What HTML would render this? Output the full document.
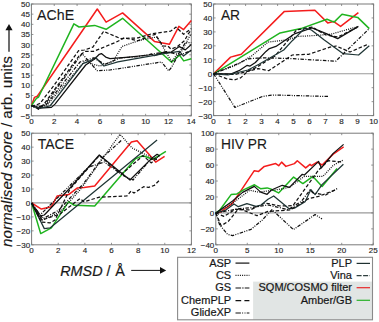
<!DOCTYPE html>
<html><head><meta charset="utf-8"><style>
html,body{margin:0;padding:0;background:#fff;}
svg{display:block;}
text{font-family:"Liberation Sans",sans-serif;fill:#1a1a1a;}
.tl{font-size:8px;stroke:#333;stroke-width:0.15px;}
.ti{font-size:15px;stroke:#111;stroke-width:0.1px;}
.lg{font-size:11px;stroke:#111;stroke-width:0.2px;}
.al{font-size:14.4px;stroke:#111;stroke-width:0.2px;}
.yl{font-size:15.2px;stroke:#111;stroke-width:0.15px;}
</style></head><body>
<svg width="379" height="322" viewBox="0 0 379 322">
<line x1="31.4" y1="105.64" x2="191.3" y2="105.64" stroke="#9a9a9a" stroke-width="1.2"/>
<rect x="31.4" y="4.0" width="159.90" height="111.80" fill="none" stroke="#7a7a7a" stroke-width="1"/>
<line x1="31.40" y1="115.8" x2="31.40" y2="113.8" stroke="#7a7a7a" stroke-width="0.8"/>
<line x1="31.40" y1="4.0" x2="31.40" y2="6.0" stroke="#7a7a7a" stroke-width="0.8"/>
<text x="31.40" y="123.80" class="tl" text-anchor="middle">0</text>
<line x1="54.24" y1="115.8" x2="54.24" y2="113.8" stroke="#7a7a7a" stroke-width="0.8"/>
<line x1="54.24" y1="4.0" x2="54.24" y2="6.0" stroke="#7a7a7a" stroke-width="0.8"/>
<text x="54.24" y="123.80" class="tl" text-anchor="middle">2</text>
<line x1="77.09" y1="115.8" x2="77.09" y2="113.8" stroke="#7a7a7a" stroke-width="0.8"/>
<line x1="77.09" y1="4.0" x2="77.09" y2="6.0" stroke="#7a7a7a" stroke-width="0.8"/>
<text x="77.09" y="123.80" class="tl" text-anchor="middle">4</text>
<line x1="99.93" y1="115.8" x2="99.93" y2="113.8" stroke="#7a7a7a" stroke-width="0.8"/>
<line x1="99.93" y1="4.0" x2="99.93" y2="6.0" stroke="#7a7a7a" stroke-width="0.8"/>
<text x="99.93" y="123.80" class="tl" text-anchor="middle">6</text>
<line x1="122.77" y1="115.8" x2="122.77" y2="113.8" stroke="#7a7a7a" stroke-width="0.8"/>
<line x1="122.77" y1="4.0" x2="122.77" y2="6.0" stroke="#7a7a7a" stroke-width="0.8"/>
<text x="122.77" y="123.80" class="tl" text-anchor="middle">8</text>
<line x1="145.61" y1="115.8" x2="145.61" y2="113.8" stroke="#7a7a7a" stroke-width="0.8"/>
<line x1="145.61" y1="4.0" x2="145.61" y2="6.0" stroke="#7a7a7a" stroke-width="0.8"/>
<text x="145.61" y="123.80" class="tl" text-anchor="middle">10</text>
<line x1="168.46" y1="115.8" x2="168.46" y2="113.8" stroke="#7a7a7a" stroke-width="0.8"/>
<line x1="168.46" y1="4.0" x2="168.46" y2="6.0" stroke="#7a7a7a" stroke-width="0.8"/>
<text x="168.46" y="123.80" class="tl" text-anchor="middle">12</text>
<line x1="191.30" y1="115.8" x2="191.30" y2="113.8" stroke="#7a7a7a" stroke-width="0.8"/>
<line x1="191.30" y1="4.0" x2="191.30" y2="6.0" stroke="#7a7a7a" stroke-width="0.8"/>
<text x="191.30" y="123.80" class="tl" text-anchor="middle">14</text>
<line x1="31.4" y1="115.80" x2="33.4" y2="115.80" stroke="#7a7a7a" stroke-width="0.8"/>
<line x1="191.3" y1="115.80" x2="189.3" y2="115.80" stroke="#7a7a7a" stroke-width="0.8"/>
<text x="29.90" y="118.70" class="tl" text-anchor="end">−5</text>
<line x1="31.4" y1="105.64" x2="33.4" y2="105.64" stroke="#7a7a7a" stroke-width="0.8"/>
<line x1="191.3" y1="105.64" x2="189.3" y2="105.64" stroke="#7a7a7a" stroke-width="0.8"/>
<text x="29.90" y="108.54" class="tl" text-anchor="end">0</text>
<line x1="31.4" y1="95.47" x2="33.4" y2="95.47" stroke="#7a7a7a" stroke-width="0.8"/>
<line x1="191.3" y1="95.47" x2="189.3" y2="95.47" stroke="#7a7a7a" stroke-width="0.8"/>
<text x="29.90" y="98.37" class="tl" text-anchor="end">5</text>
<line x1="31.4" y1="85.31" x2="33.4" y2="85.31" stroke="#7a7a7a" stroke-width="0.8"/>
<line x1="191.3" y1="85.31" x2="189.3" y2="85.31" stroke="#7a7a7a" stroke-width="0.8"/>
<text x="29.90" y="88.21" class="tl" text-anchor="end">10</text>
<line x1="31.4" y1="75.15" x2="33.4" y2="75.15" stroke="#7a7a7a" stroke-width="0.8"/>
<line x1="191.3" y1="75.15" x2="189.3" y2="75.15" stroke="#7a7a7a" stroke-width="0.8"/>
<text x="29.90" y="78.05" class="tl" text-anchor="end">15</text>
<line x1="31.4" y1="64.98" x2="33.4" y2="64.98" stroke="#7a7a7a" stroke-width="0.8"/>
<line x1="191.3" y1="64.98" x2="189.3" y2="64.98" stroke="#7a7a7a" stroke-width="0.8"/>
<text x="29.90" y="67.88" class="tl" text-anchor="end">20</text>
<line x1="31.4" y1="54.82" x2="33.4" y2="54.82" stroke="#7a7a7a" stroke-width="0.8"/>
<line x1="191.3" y1="54.82" x2="189.3" y2="54.82" stroke="#7a7a7a" stroke-width="0.8"/>
<text x="29.90" y="57.72" class="tl" text-anchor="end">25</text>
<line x1="31.4" y1="44.65" x2="33.4" y2="44.65" stroke="#7a7a7a" stroke-width="0.8"/>
<line x1="191.3" y1="44.65" x2="189.3" y2="44.65" stroke="#7a7a7a" stroke-width="0.8"/>
<text x="29.90" y="47.55" class="tl" text-anchor="end">30</text>
<line x1="31.4" y1="34.49" x2="33.4" y2="34.49" stroke="#7a7a7a" stroke-width="0.8"/>
<line x1="191.3" y1="34.49" x2="189.3" y2="34.49" stroke="#7a7a7a" stroke-width="0.8"/>
<text x="29.90" y="37.39" class="tl" text-anchor="end">35</text>
<line x1="31.4" y1="24.33" x2="33.4" y2="24.33" stroke="#7a7a7a" stroke-width="0.8"/>
<line x1="191.3" y1="24.33" x2="189.3" y2="24.33" stroke="#7a7a7a" stroke-width="0.8"/>
<text x="29.90" y="27.23" class="tl" text-anchor="end">40</text>
<line x1="31.4" y1="14.16" x2="33.4" y2="14.16" stroke="#7a7a7a" stroke-width="0.8"/>
<line x1="191.3" y1="14.16" x2="189.3" y2="14.16" stroke="#7a7a7a" stroke-width="0.8"/>
<text x="29.90" y="17.06" class="tl" text-anchor="end">45</text>
<line x1="31.4" y1="4.00" x2="33.4" y2="4.00" stroke="#7a7a7a" stroke-width="0.8"/>
<line x1="191.3" y1="4.00" x2="189.3" y2="4.00" stroke="#7a7a7a" stroke-width="0.8"/>
<text x="29.90" y="6.90" class="tl" text-anchor="end">50</text>
<text x="37.0" y="20.20" class="ti" textLength="37.1" lengthAdjust="spacingAndGlyphs">AChE</text>
<line x1="213.6" y1="73.75" x2="373.6" y2="73.75" stroke="#9a9a9a" stroke-width="1.2"/>
<rect x="213.6" y="4.0" width="160.00" height="111.60" fill="none" stroke="#7a7a7a" stroke-width="1"/>
<line x1="213.60" y1="115.6" x2="213.60" y2="113.6" stroke="#7a7a7a" stroke-width="0.8"/>
<line x1="213.60" y1="4.0" x2="213.60" y2="6.0" stroke="#7a7a7a" stroke-width="0.8"/>
<text x="213.60" y="123.60" class="tl" text-anchor="middle">0</text>
<line x1="229.60" y1="115.6" x2="229.60" y2="113.6" stroke="#7a7a7a" stroke-width="0.8"/>
<line x1="229.60" y1="4.0" x2="229.60" y2="6.0" stroke="#7a7a7a" stroke-width="0.8"/>
<text x="229.60" y="123.60" class="tl" text-anchor="middle">1</text>
<line x1="245.60" y1="115.6" x2="245.60" y2="113.6" stroke="#7a7a7a" stroke-width="0.8"/>
<line x1="245.60" y1="4.0" x2="245.60" y2="6.0" stroke="#7a7a7a" stroke-width="0.8"/>
<text x="245.60" y="123.60" class="tl" text-anchor="middle">2</text>
<line x1="261.60" y1="115.6" x2="261.60" y2="113.6" stroke="#7a7a7a" stroke-width="0.8"/>
<line x1="261.60" y1="4.0" x2="261.60" y2="6.0" stroke="#7a7a7a" stroke-width="0.8"/>
<text x="261.60" y="123.60" class="tl" text-anchor="middle">3</text>
<line x1="277.60" y1="115.6" x2="277.60" y2="113.6" stroke="#7a7a7a" stroke-width="0.8"/>
<line x1="277.60" y1="4.0" x2="277.60" y2="6.0" stroke="#7a7a7a" stroke-width="0.8"/>
<text x="277.60" y="123.60" class="tl" text-anchor="middle">4</text>
<line x1="293.60" y1="115.6" x2="293.60" y2="113.6" stroke="#7a7a7a" stroke-width="0.8"/>
<line x1="293.60" y1="4.0" x2="293.60" y2="6.0" stroke="#7a7a7a" stroke-width="0.8"/>
<text x="293.60" y="123.60" class="tl" text-anchor="middle">5</text>
<line x1="309.60" y1="115.6" x2="309.60" y2="113.6" stroke="#7a7a7a" stroke-width="0.8"/>
<line x1="309.60" y1="4.0" x2="309.60" y2="6.0" stroke="#7a7a7a" stroke-width="0.8"/>
<text x="309.60" y="123.60" class="tl" text-anchor="middle">6</text>
<line x1="325.60" y1="115.6" x2="325.60" y2="113.6" stroke="#7a7a7a" stroke-width="0.8"/>
<line x1="325.60" y1="4.0" x2="325.60" y2="6.0" stroke="#7a7a7a" stroke-width="0.8"/>
<text x="325.60" y="123.60" class="tl" text-anchor="middle">7</text>
<line x1="341.60" y1="115.6" x2="341.60" y2="113.6" stroke="#7a7a7a" stroke-width="0.8"/>
<line x1="341.60" y1="4.0" x2="341.60" y2="6.0" stroke="#7a7a7a" stroke-width="0.8"/>
<text x="341.60" y="123.60" class="tl" text-anchor="middle">8</text>
<line x1="357.60" y1="115.6" x2="357.60" y2="113.6" stroke="#7a7a7a" stroke-width="0.8"/>
<line x1="357.60" y1="4.0" x2="357.60" y2="6.0" stroke="#7a7a7a" stroke-width="0.8"/>
<text x="357.60" y="123.60" class="tl" text-anchor="middle">9</text>
<line x1="373.60" y1="115.6" x2="373.60" y2="113.6" stroke="#7a7a7a" stroke-width="0.8"/>
<line x1="373.60" y1="4.0" x2="373.60" y2="6.0" stroke="#7a7a7a" stroke-width="0.8"/>
<text x="373.60" y="123.60" class="tl" text-anchor="middle">10</text>
<line x1="213.6" y1="115.60" x2="215.6" y2="115.60" stroke="#7a7a7a" stroke-width="0.8"/>
<line x1="373.6" y1="115.60" x2="371.6" y2="115.60" stroke="#7a7a7a" stroke-width="0.8"/>
<text x="212.10" y="118.50" class="tl" text-anchor="end">−30</text>
<line x1="213.6" y1="101.65" x2="215.6" y2="101.65" stroke="#7a7a7a" stroke-width="0.8"/>
<line x1="373.6" y1="101.65" x2="371.6" y2="101.65" stroke="#7a7a7a" stroke-width="0.8"/>
<text x="212.10" y="104.55" class="tl" text-anchor="end">−20</text>
<line x1="213.6" y1="87.70" x2="215.6" y2="87.70" stroke="#7a7a7a" stroke-width="0.8"/>
<line x1="373.6" y1="87.70" x2="371.6" y2="87.70" stroke="#7a7a7a" stroke-width="0.8"/>
<text x="212.10" y="90.60" class="tl" text-anchor="end">−10</text>
<line x1="213.6" y1="73.75" x2="215.6" y2="73.75" stroke="#7a7a7a" stroke-width="0.8"/>
<line x1="373.6" y1="73.75" x2="371.6" y2="73.75" stroke="#7a7a7a" stroke-width="0.8"/>
<text x="212.10" y="76.65" class="tl" text-anchor="end">0</text>
<line x1="213.6" y1="59.80" x2="215.6" y2="59.80" stroke="#7a7a7a" stroke-width="0.8"/>
<line x1="373.6" y1="59.80" x2="371.6" y2="59.80" stroke="#7a7a7a" stroke-width="0.8"/>
<text x="212.10" y="62.70" class="tl" text-anchor="end">10</text>
<line x1="213.6" y1="45.85" x2="215.6" y2="45.85" stroke="#7a7a7a" stroke-width="0.8"/>
<line x1="373.6" y1="45.85" x2="371.6" y2="45.85" stroke="#7a7a7a" stroke-width="0.8"/>
<text x="212.10" y="48.75" class="tl" text-anchor="end">20</text>
<line x1="213.6" y1="31.90" x2="215.6" y2="31.90" stroke="#7a7a7a" stroke-width="0.8"/>
<line x1="373.6" y1="31.90" x2="371.6" y2="31.90" stroke="#7a7a7a" stroke-width="0.8"/>
<text x="212.10" y="34.80" class="tl" text-anchor="end">30</text>
<line x1="213.6" y1="17.95" x2="215.6" y2="17.95" stroke="#7a7a7a" stroke-width="0.8"/>
<line x1="373.6" y1="17.95" x2="371.6" y2="17.95" stroke="#7a7a7a" stroke-width="0.8"/>
<text x="212.10" y="20.85" class="tl" text-anchor="end">40</text>
<line x1="213.6" y1="4.00" x2="215.6" y2="4.00" stroke="#7a7a7a" stroke-width="0.8"/>
<line x1="373.6" y1="4.00" x2="371.6" y2="4.00" stroke="#7a7a7a" stroke-width="0.8"/>
<text x="212.10" y="6.90" class="tl" text-anchor="end">50</text>
<text x="220.9" y="20.20" class="ti" textLength="19.2" lengthAdjust="spacingAndGlyphs">AR</text>
<line x1="31.6" y1="202.95" x2="191.4" y2="202.95" stroke="#9a9a9a" stroke-width="1.2"/>
<rect x="31.6" y="133.2" width="159.80" height="111.60" fill="none" stroke="#7a7a7a" stroke-width="1"/>
<line x1="31.60" y1="244.8" x2="31.60" y2="242.8" stroke="#7a7a7a" stroke-width="0.8"/>
<line x1="31.60" y1="133.2" x2="31.60" y2="135.2" stroke="#7a7a7a" stroke-width="0.8"/>
<text x="31.60" y="252.80" class="tl" text-anchor="middle">0</text>
<line x1="58.23" y1="244.8" x2="58.23" y2="242.8" stroke="#7a7a7a" stroke-width="0.8"/>
<line x1="58.23" y1="133.2" x2="58.23" y2="135.2" stroke="#7a7a7a" stroke-width="0.8"/>
<text x="58.23" y="252.80" class="tl" text-anchor="middle">2</text>
<line x1="84.87" y1="244.8" x2="84.87" y2="242.8" stroke="#7a7a7a" stroke-width="0.8"/>
<line x1="84.87" y1="133.2" x2="84.87" y2="135.2" stroke="#7a7a7a" stroke-width="0.8"/>
<text x="84.87" y="252.80" class="tl" text-anchor="middle">4</text>
<line x1="111.50" y1="244.8" x2="111.50" y2="242.8" stroke="#7a7a7a" stroke-width="0.8"/>
<line x1="111.50" y1="133.2" x2="111.50" y2="135.2" stroke="#7a7a7a" stroke-width="0.8"/>
<text x="111.50" y="252.80" class="tl" text-anchor="middle">6</text>
<line x1="138.13" y1="244.8" x2="138.13" y2="242.8" stroke="#7a7a7a" stroke-width="0.8"/>
<line x1="138.13" y1="133.2" x2="138.13" y2="135.2" stroke="#7a7a7a" stroke-width="0.8"/>
<text x="138.13" y="252.80" class="tl" text-anchor="middle">8</text>
<line x1="164.77" y1="244.8" x2="164.77" y2="242.8" stroke="#7a7a7a" stroke-width="0.8"/>
<line x1="164.77" y1="133.2" x2="164.77" y2="135.2" stroke="#7a7a7a" stroke-width="0.8"/>
<text x="164.77" y="252.80" class="tl" text-anchor="middle">10</text>
<line x1="191.40" y1="244.8" x2="191.40" y2="242.8" stroke="#7a7a7a" stroke-width="0.8"/>
<line x1="191.40" y1="133.2" x2="191.40" y2="135.2" stroke="#7a7a7a" stroke-width="0.8"/>
<text x="191.40" y="252.80" class="tl" text-anchor="middle">12</text>
<line x1="31.6" y1="244.80" x2="33.6" y2="244.80" stroke="#7a7a7a" stroke-width="0.8"/>
<line x1="191.4" y1="244.80" x2="189.4" y2="244.80" stroke="#7a7a7a" stroke-width="0.8"/>
<text x="30.10" y="247.70" class="tl" text-anchor="end">−30</text>
<line x1="31.6" y1="230.85" x2="33.6" y2="230.85" stroke="#7a7a7a" stroke-width="0.8"/>
<line x1="191.4" y1="230.85" x2="189.4" y2="230.85" stroke="#7a7a7a" stroke-width="0.8"/>
<text x="30.10" y="233.75" class="tl" text-anchor="end">−20</text>
<line x1="31.6" y1="216.90" x2="33.6" y2="216.90" stroke="#7a7a7a" stroke-width="0.8"/>
<line x1="191.4" y1="216.90" x2="189.4" y2="216.90" stroke="#7a7a7a" stroke-width="0.8"/>
<text x="30.10" y="219.80" class="tl" text-anchor="end">−10</text>
<line x1="31.6" y1="202.95" x2="33.6" y2="202.95" stroke="#7a7a7a" stroke-width="0.8"/>
<line x1="191.4" y1="202.95" x2="189.4" y2="202.95" stroke="#7a7a7a" stroke-width="0.8"/>
<text x="30.10" y="205.85" class="tl" text-anchor="end">0</text>
<line x1="31.6" y1="189.00" x2="33.6" y2="189.00" stroke="#7a7a7a" stroke-width="0.8"/>
<line x1="191.4" y1="189.00" x2="189.4" y2="189.00" stroke="#7a7a7a" stroke-width="0.8"/>
<text x="30.10" y="191.90" class="tl" text-anchor="end">10</text>
<line x1="31.6" y1="175.05" x2="33.6" y2="175.05" stroke="#7a7a7a" stroke-width="0.8"/>
<line x1="191.4" y1="175.05" x2="189.4" y2="175.05" stroke="#7a7a7a" stroke-width="0.8"/>
<text x="30.10" y="177.95" class="tl" text-anchor="end">20</text>
<line x1="31.6" y1="161.10" x2="33.6" y2="161.10" stroke="#7a7a7a" stroke-width="0.8"/>
<line x1="191.4" y1="161.10" x2="189.4" y2="161.10" stroke="#7a7a7a" stroke-width="0.8"/>
<text x="30.10" y="164.00" class="tl" text-anchor="end">30</text>
<line x1="31.6" y1="147.15" x2="33.6" y2="147.15" stroke="#7a7a7a" stroke-width="0.8"/>
<line x1="191.4" y1="147.15" x2="189.4" y2="147.15" stroke="#7a7a7a" stroke-width="0.8"/>
<text x="30.10" y="150.05" class="tl" text-anchor="end">40</text>
<line x1="31.6" y1="133.20" x2="33.6" y2="133.20" stroke="#7a7a7a" stroke-width="0.8"/>
<line x1="191.4" y1="133.20" x2="189.4" y2="133.20" stroke="#7a7a7a" stroke-width="0.8"/>
<text x="30.10" y="136.10" class="tl" text-anchor="end">50</text>
<text x="37.7" y="149.40" class="ti" textLength="36.4" lengthAdjust="spacingAndGlyphs">TACE</text>
<line x1="215.8" y1="212.91" x2="373.2" y2="212.91" stroke="#9a9a9a" stroke-width="1.2"/>
<rect x="215.8" y="133.2" width="157.40" height="111.60" fill="none" stroke="#7a7a7a" stroke-width="1"/>
<line x1="215.80" y1="244.8" x2="215.80" y2="242.8" stroke="#7a7a7a" stroke-width="0.8"/>
<line x1="215.80" y1="133.2" x2="215.80" y2="135.2" stroke="#7a7a7a" stroke-width="0.8"/>
<text x="215.80" y="252.80" class="tl" text-anchor="middle">0</text>
<line x1="247.28" y1="244.8" x2="247.28" y2="242.8" stroke="#7a7a7a" stroke-width="0.8"/>
<line x1="247.28" y1="133.2" x2="247.28" y2="135.2" stroke="#7a7a7a" stroke-width="0.8"/>
<text x="247.28" y="252.80" class="tl" text-anchor="middle">5</text>
<line x1="278.76" y1="244.8" x2="278.76" y2="242.8" stroke="#7a7a7a" stroke-width="0.8"/>
<line x1="278.76" y1="133.2" x2="278.76" y2="135.2" stroke="#7a7a7a" stroke-width="0.8"/>
<text x="278.76" y="252.80" class="tl" text-anchor="middle">10</text>
<line x1="310.24" y1="244.8" x2="310.24" y2="242.8" stroke="#7a7a7a" stroke-width="0.8"/>
<line x1="310.24" y1="133.2" x2="310.24" y2="135.2" stroke="#7a7a7a" stroke-width="0.8"/>
<text x="310.24" y="252.80" class="tl" text-anchor="middle">15</text>
<line x1="341.72" y1="244.8" x2="341.72" y2="242.8" stroke="#7a7a7a" stroke-width="0.8"/>
<line x1="341.72" y1="133.2" x2="341.72" y2="135.2" stroke="#7a7a7a" stroke-width="0.8"/>
<text x="341.72" y="252.80" class="tl" text-anchor="middle">20</text>
<line x1="373.20" y1="244.8" x2="373.20" y2="242.8" stroke="#7a7a7a" stroke-width="0.8"/>
<line x1="373.20" y1="133.2" x2="373.20" y2="135.2" stroke="#7a7a7a" stroke-width="0.8"/>
<text x="373.20" y="252.80" class="tl" text-anchor="middle">25</text>
<line x1="215.8" y1="244.80" x2="217.8" y2="244.80" stroke="#7a7a7a" stroke-width="0.8"/>
<line x1="373.2" y1="244.80" x2="371.2" y2="244.80" stroke="#7a7a7a" stroke-width="0.8"/>
<text x="214.30" y="247.70" class="tl" text-anchor="end">−40</text>
<line x1="215.8" y1="228.86" x2="217.8" y2="228.86" stroke="#7a7a7a" stroke-width="0.8"/>
<line x1="373.2" y1="228.86" x2="371.2" y2="228.86" stroke="#7a7a7a" stroke-width="0.8"/>
<text x="214.30" y="231.76" class="tl" text-anchor="end">−20</text>
<line x1="215.8" y1="212.91" x2="217.8" y2="212.91" stroke="#7a7a7a" stroke-width="0.8"/>
<line x1="373.2" y1="212.91" x2="371.2" y2="212.91" stroke="#7a7a7a" stroke-width="0.8"/>
<text x="214.30" y="215.81" class="tl" text-anchor="end">0</text>
<line x1="215.8" y1="196.97" x2="217.8" y2="196.97" stroke="#7a7a7a" stroke-width="0.8"/>
<line x1="373.2" y1="196.97" x2="371.2" y2="196.97" stroke="#7a7a7a" stroke-width="0.8"/>
<text x="214.30" y="199.87" class="tl" text-anchor="end">20</text>
<line x1="215.8" y1="181.03" x2="217.8" y2="181.03" stroke="#7a7a7a" stroke-width="0.8"/>
<line x1="373.2" y1="181.03" x2="371.2" y2="181.03" stroke="#7a7a7a" stroke-width="0.8"/>
<text x="214.30" y="183.93" class="tl" text-anchor="end">40</text>
<line x1="215.8" y1="165.09" x2="217.8" y2="165.09" stroke="#7a7a7a" stroke-width="0.8"/>
<line x1="373.2" y1="165.09" x2="371.2" y2="165.09" stroke="#7a7a7a" stroke-width="0.8"/>
<text x="214.30" y="167.99" class="tl" text-anchor="end">60</text>
<line x1="215.8" y1="149.14" x2="217.8" y2="149.14" stroke="#7a7a7a" stroke-width="0.8"/>
<line x1="373.2" y1="149.14" x2="371.2" y2="149.14" stroke="#7a7a7a" stroke-width="0.8"/>
<text x="214.30" y="152.04" class="tl" text-anchor="end">80</text>
<line x1="215.8" y1="133.20" x2="217.8" y2="133.20" stroke="#7a7a7a" stroke-width="0.8"/>
<line x1="373.2" y1="133.20" x2="371.2" y2="133.20" stroke="#7a7a7a" stroke-width="0.8"/>
<text x="214.30" y="136.10" class="tl" text-anchor="end">100</text>
<text x="221.0" y="149.40" class="ti" textLength="46.0" lengthAdjust="spacingAndGlyphs">HIV PR</text>
<polyline points="31.4,105.7 34.4,97.4 37.3,96.2 97.3,9.0 106.1,22.1 122.6,12.9 154.4,41.4 169.4,44.3 178.9,26.4 183.6,29.6 191.3,20.4" fill="none" stroke="#f41c1c" stroke-width="1.5" stroke-linejoin="round" />
<polyline points="31.4,105.7 36.4,98.4 38.6,97.0 73.9,23.9 79.0,27.0 94.7,25.4 106.1,29.3 122.6,18.3 171.6,62.3 179.4,55.1 183.7,60.9 191.3,58.7" fill="none" stroke="#1fb41f" stroke-width="1.5" stroke-linejoin="round" />
<polyline points="31.4,105.7 35.7,105.2 40.0,103.4 53.0,86.7 78.6,50.7 84.3,50.0 92.9,47.1 103.6,31.4 120.7,38.6 138.0,37.9 152.3,33.6 170.7,31.1 176.1,27.1 183.6,34.3 191.3,28.6" fill="none" stroke="#111" stroke-width="1.25" stroke-linejoin="round" stroke-dasharray="3.5 2"/>
<polyline points="31.4,105.7 38.6,109.1 44.0,104.0 79.0,56.0 85.0,51.4 93.6,51.4 116.4,42.0 124.3,37.9 138.0,40.7 155.1,34.3 163.0,46.0 168.1,46.3 171.0,49.1 177.4,46.6 184.6,40.6 188.1,34.1 191.3,30.0" fill="none" stroke="#111" stroke-width="1.25" stroke-linejoin="round" stroke-dasharray="3.5 2"/>
<polyline points="31.4,105.7 38.6,109.0 46.0,103.0 82.1,53.6 97.1,70.7 110.0,70.0 161.6,62.0 168.7,70.9 171.7,67.1 179.6,52.1 185.3,42.7 191.3,42.7" fill="none" stroke="#111" stroke-width="1.25" stroke-linejoin="round" stroke-dasharray="3.5 1.3 1 1.3 1 1.3"/>
<polyline points="31.4,105.7 39.0,108.0 48.0,104.0 84.0,62.0 100.0,66.0 112.9,61.4 122.1,46.4 138.6,40.7 151.4,37.9 157.0,37.0 171.6,61.6 176.6,55.0 181.7,51.3 189.6,36.3 191.3,34.0" fill="none" stroke="#111" stroke-width="1.25" stroke-linejoin="round" stroke-dasharray="1 1.2"/>
<polyline points="31.4,105.7 39.3,108.1 51.4,107.4 55.0,104.1 85.7,65.0 94.3,59.3 99.3,54.3 101.4,53.6 105.7,57.1 110.0,58.6 129.0,57.1 148.6,55.0 151.4,54.0 154.3,55.7 163.7,52.3 170.9,52.3 179.4,46.6 185.3,49.9 191.3,44.5" fill="none" stroke="#111" stroke-width="1.25" stroke-linejoin="round" />
<polyline points="31.4,105.7 40.0,108.0 50.0,106.0 82.9,63.6 90.3,60.7 95.6,57.5 104.0,66.0 117.8,61.8 164.0,53.6 179.6,51.4 183.5,56.1 191.3,50.0" fill="none" stroke="#1f3535" stroke-width="1.25" stroke-linejoin="round" />
<polyline points="31.4,105.7 38.0,107.0 46.0,105.0 80.0,62.0 93.6,57.9 105.0,64.3 120.0,58.0 138.0,56.6 166.6,51.6 180.0,55.0 191.3,50.6" fill="none" stroke="#111" stroke-width="1.25" stroke-linejoin="round" stroke-dasharray="3.5 1.5 1 1.5"/>
<polyline points="213.6,73.8 230.6,57.1 235.6,55.7 241.3,54.3 284.4,11.4 314.9,10.3 327.7,22.9 333.4,21.4 340.6,26.4 358.4,12.6" fill="none" stroke="#f41c1c" stroke-width="1.5" stroke-linejoin="round" />
<polyline points="213.6,73.8 280.1,32.9 300.9,28.6 327.0,19.3 334.1,22.1 342.0,14.3 357.7,17.4 369.3,28.6" fill="none" stroke="#1fb41f" stroke-width="1.5" stroke-linejoin="round" />
<polyline points="213.6,73.8 219.1,71.1 231.3,67.1 239.0,63.6 251.9,55.7 268.0,42.1 286.6,40.0 298.0,36.4 312.0,35.7 330.6,34.3 358.4,26.4" fill="none" stroke="#111" stroke-width="1.25" stroke-linejoin="round" stroke-dasharray="1 1.2"/>
<polyline points="213.6,73.8 231.3,73.9 239.0,70.7 246.9,65.4 250.1,66.1 255.4,62.5 266.0,51.4 269.4,48.6 275.9,46.4 295.1,33.6 312.0,27.9 326.3,33.6 337.7,38.6 358.4,26.4" fill="none" stroke="#111" stroke-width="1.25" stroke-linejoin="round" />
<polyline points="213.6,73.8 226.3,78.6 234.1,80.0 240.6,77.9 247.7,71.4 256.9,67.1 264.7,62.1 275.1,56.0 296.6,30.0 312.0,27.1 326.0,35.0 337.7,37.0 358.4,26.8" fill="none" stroke="#111" stroke-width="1.25" stroke-linejoin="round" stroke-dasharray="3.5 2"/>
<polyline points="213.6,73.8 235.0,74.5 258.3,68.6 268.7,70.7 292.3,55.0 308.6,54.3 330.0,47.1 336.0,46.0 350.0,52.0 368.6,44.0" fill="none" stroke="#111" stroke-width="1.25" stroke-linejoin="round" stroke-dasharray="3.5 2"/>
<polyline points="213.6,73.8 228.0,75.0 248.0,70.0 259.0,64.3 283.7,50.0 292.3,40.7 305.0,28.0 311.4,30.0 324.3,40.0 342.9,53.6 358.6,55.0 369.3,45.7" fill="none" stroke="#1f3535" stroke-width="1.25" stroke-linejoin="round" />
<polyline points="213.6,73.8 234.9,107.4 262.7,96.4 273.4,95.0 329.0,96.5" fill="none" stroke="#111" stroke-width="1.25" stroke-linejoin="round" stroke-dasharray="3.5 1.3 1 1.3 1 1.3"/>
<polyline points="213.6,73.8 239.0,63.2 247.6,58.9 256.9,58.2 265.1,57.9 290.9,58.6 335.7,61.2 369.3,28.6" fill="none" stroke="#111" stroke-width="1.25" stroke-linejoin="round" stroke-dasharray="3.5 1.5 1 1.5"/>
<polyline points="31.6,203.0 41.4,209.1 51.4,206.7 57.1,196.0 68.6,194.6 77.1,188.1 84.0,187.4 94.7,186.0 131.4,142.1 137.1,140.7 155.7,162.1 164.6,156.4" fill="none" stroke="#f41c1c" stroke-width="1.5" stroke-linejoin="round" />
<polyline points="31.6,203.0 40.7,233.6 51.4,227.9 68.6,201.7 74.3,205.3 94.7,206.0 135.7,158.6 142.9,155.7 152.9,159.3 165.9,151.4" fill="none" stroke="#1fb41f" stroke-width="1.5" stroke-linejoin="round" />
<polyline points="31.6,203.0 44.3,228.6 50.0,227.9 157.1,140.0" fill="none" stroke="#1f3535" stroke-width="1.25" stroke-linejoin="round" />
<polyline points="31.6,203.0 38.6,216.4 44.3,215.0 70.0,188.0 99.3,155.0 130.0,180.0 151.4,158.6 157.1,154.3 160.0,156.0" fill="none" stroke="#111" stroke-width="1.25" stroke-linejoin="round" />
<polyline points="31.6,203.0 42.0,220.0 60.0,212.0 80.0,190.0 120.0,134.3 132.0,147.9 144.9,154.3 150.6,157.1 158.0,160.0" fill="none" stroke="#111" stroke-width="1.25" stroke-linejoin="round" stroke-dasharray="1 1.2"/>
<polyline points="31.6,203.0 42.9,218.6 58.6,210.3 84.0,183.1 103.6,156.4 121.8,140.0" fill="none" stroke="#111" stroke-width="1.25" stroke-linejoin="round" stroke-dasharray="3.5 1.5 1 1.5"/>
<polyline points="31.6,203.0 41.4,222.1 50.0,222.9 55.0,220.0 70.0,189.0 99.3,155.5 121.4,174.3 142.9,155.7 151.4,162.9 159.0,156.0" fill="none" stroke="#111" stroke-width="1.25" stroke-linejoin="round" stroke-dasharray="3.5 2"/>
<polyline points="31.6,203.0 42.0,220.0 60.0,214.0 80.0,198.6 84.0,201.7 99.7,197.1 126.9,196.0 131.1,191.0 134.0,193.1 143.7,186.7 148.7,187.4 154.4,185.3 159.4,180.3" fill="none" stroke="#111" stroke-width="1.25" stroke-linejoin="round" stroke-dasharray="3.5 2"/>
<polyline points="31.6,203.0 40.0,215.0 88.6,167.1 104.3,162.1 124.0,176.0 133.0,180.0 150.0,160.0 158.0,157.0" fill="none" stroke="#111" stroke-width="1.25" stroke-linejoin="round" stroke-dasharray="3.5 1.3 1 1.3 1 1.3"/>
<polyline points="215.8,212.9 221.1,211.7 232.6,203.1 254.3,170.7 258.6,171.4 264.3,166.4 275.7,163.6 278.7,165.7 281.6,162.1 285.9,166.4 294.4,163.6 297.3,160.7 305.7,167.9 310.0,164.3 311.4,165.7 317.1,162.1 322.1,165.0 333.2,154.1 343.6,146.9" fill="none" stroke="#f41c1c" stroke-width="1.5" stroke-linejoin="round" />
<polyline points="215.8,212.9 219.7,210.3 231.1,194.6 236.9,193.9 244.0,189.6 254.5,184.8 260.5,188.7 267.1,187.9 271.4,189.3 278.6,192.9 293.6,177.1 302.9,183.6 312.9,176.4 322.1,186.4 337.1,168.6" fill="none" stroke="#1fb41f" stroke-width="1.5" stroke-linejoin="round" />
<polyline points="215.8,212.9 232.6,201.0 242.6,192.4 254.3,186.4 260.7,192.1 267.1,194.3 271.4,190.0 282.3,185.3 289.4,187.4 302.3,174.3 304.4,175.0 318.6,161.4 321.4,167.9 333.2,153.4 343.6,144.4" fill="none" stroke="#111" stroke-width="1.25" stroke-linejoin="round" />
<polyline points="215.8,212.9 230.0,205.0 249.7,190.3 258.6,192.1 270.0,190.7 284.0,188.6 290.0,187.0 304.3,176.4 322.9,176.4 332.9,165.7 336.3,163.6 343.4,160.0" fill="none" stroke="#111" stroke-width="1.25" stroke-linejoin="round" stroke-dasharray="1 1.2"/>
<polyline points="215.8,212.9 224.0,216.4 235.4,209.3 250.0,210.0 265.0,203.0 280.0,206.0 292.9,205.7 318.6,170.0 328.4,160.7 343.0,162.0" fill="none" stroke="#111" stroke-width="1.25" stroke-linejoin="round" stroke-dasharray="3.5 2"/>
<polyline points="215.8,212.9 225.4,210.3 234.0,203.9 238.3,206.7 246.9,203.6 256.0,206.4 261.0,205.0 268.0,199.3 273.7,196.0 289.4,208.9 294.4,208.1 305.1,201.7 310.9,189.6 315.1,194.6 322.0,184.6 343.4,164.3" fill="none" stroke="#1f3535" stroke-width="1.25" stroke-linejoin="round" />
<polyline points="215.8,212.9 228.3,210.7 239.7,208.6 249.7,207.9 268.0,205.0 288.0,209.6 301.4,201.4 310.0,190.0 312.9,192.9 325.7,195.0 337.1,188.6" fill="none" stroke="#111" stroke-width="1.25" stroke-linejoin="round" stroke-dasharray="3.5 1.5 1 1.5"/>
<polyline points="215.8,212.9 221.1,225.7 228.3,221.4 236.9,210.7 241.1,209.3 256.9,215.7 268.0,211.4 290.0,210.0 308.6,198.6 318.6,196.4 331.4,191.4 335.7,190.0" fill="none" stroke="#111" stroke-width="1.25" stroke-linejoin="round" stroke-dasharray="3.5 2"/>
<polyline points="215.8,212.9 219.7,225.0 227.6,234.3 232.6,235.7 251.1,229.3 262.0,220.3 272.0,209.6 293.4,229.6 315.1,214.6 322.0,218.9" fill="none" stroke="#111" stroke-width="1.25" stroke-linejoin="round" stroke-dasharray="3.5 1.3 1 1.3 1 1.3"/>
<rect x="253.1" y="281.6" width="119.3" height="38.2" fill="#e1e5e4"/>
<rect x="177.6" y="257.3" width="194.9" height="62.5" fill="none" stroke="#8a8a8a" stroke-width="1.1"/>
<text x="231.2" y="266.7" class="lg" text-anchor="end">ASP</text>
<line x1="235.5" y1="263.1" x2="249.4" y2="263.1" stroke="#111" stroke-width="1.2" />
<text x="231.2" y="279.0" class="lg" text-anchor="end">CS</text>
<line x1="235.5" y1="275.4" x2="249.4" y2="275.4" stroke="#111" stroke-width="1.2" stroke-dasharray="1 1.2"/>
<text x="231.2" y="291.3" class="lg" text-anchor="end">GS</text>
<line x1="235.5" y1="288.0" x2="249.4" y2="288.0" stroke="#111" stroke-width="1.2" stroke-dasharray="5.6 1.1 1.4 1.1"/>
<text x="231.2" y="303.7" class="lg" text-anchor="end">ChemPLP</text>
<line x1="235.5" y1="300.7" x2="249.4" y2="300.7" stroke="#111" stroke-width="1.2" stroke-dasharray="5.7 3.2"/>
<text x="231.2" y="316.0" class="lg" text-anchor="end">GlideXP</text>
<line x1="235.5" y1="313.0" x2="249.4" y2="313.0" stroke="#111" stroke-width="1.2" stroke-dasharray="5.4 1.2 1 1.4 1 1.2"/>
<text x="352.0" y="266.7" class="lg" text-anchor="end">PLP</text>
<line x1="356.6" y1="263.4" x2="370" y2="263.4" stroke="#1f3030" stroke-width="1.2" />
<text x="352.0" y="279.0" class="lg" text-anchor="end">Vina</text>
<line x1="356.6" y1="275.6" x2="370" y2="275.6" stroke="#2f3f3f" stroke-width="1.2" stroke-dasharray="5 1.5"/>
<text x="352.0" y="291.3" class="lg" text-anchor="end">SQM/COSMO filter</text>
<line x1="356.6" y1="287.7" x2="370" y2="287.7" stroke="#e8282a" stroke-width="1.2" />
<text x="352.0" y="303.7" class="lg" text-anchor="end">Amber/GB</text>
<line x1="356.6" y1="300.3" x2="370" y2="300.3" stroke="#28b028" stroke-width="1.2" />
<text transform="translate(11.8,247.0) rotate(-90)" class="yl"><tspan font-style="italic">normalised score</tspan> / arb. units</text>
<line x1="9" y1="29" x2="9" y2="51.8" stroke="#666" stroke-width="1.9"/>
<polygon points="9,23.9 12.6,30.2 5.4,30.2" fill="#111"/>
<text x="60.2" y="275.7" class="al" font-style="italic">RMSD</text>
<text x="106.4" y="276.2" class="al">/</text>
<text x="115.2" y="275.7" class="al">Å</text>
<line x1="131.2" y1="270.4" x2="161" y2="270.4" stroke="#111" stroke-width="1"/>
<polygon points="160,266.9 166.2,270.4 160,273.8" fill="#111"/>
</svg></body></html>
